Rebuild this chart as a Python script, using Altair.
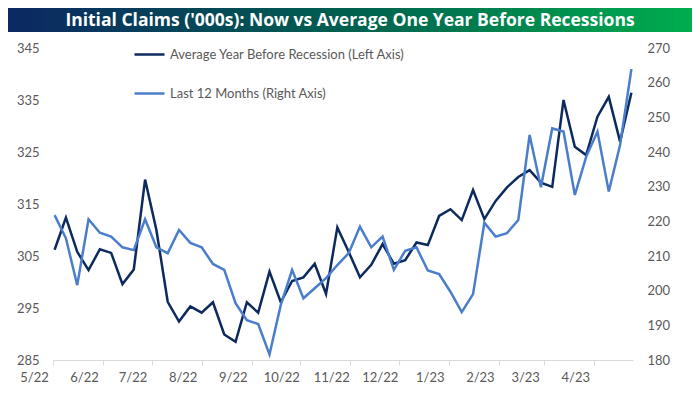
import altair as alt
import pandas as pd

title_text = "Initial Claims ('000s): Now vs Average One Year Before Recessions"
series_names = ["Average Year Before Recession (Left Axis)", "Last 12 Months (Right Axis)"]
series_colors = ["#0c2a5e", "#4a7ecb"]

start_date = "2022-05-02"
n_weeks = 52

avg_year_before = [
    306.2, 312.4, 305.8, 302.3, 306.3, 305.6, 299.6, 302.4, 319.7, 310.0,
    296.2, 292.4, 295.3, 294.1, 296.1, 289.9, 288.5, 296.1, 294.1, 302.0,
    296.1, 300.2, 300.9, 303.5, 297.7, 310.5, 305.8, 300.9, 303.3, 307.3,
    303.5, 304.2, 307.6, 307.1, 312.7, 314.0, 311.9, 317.7, 312.1, 315.6,
    318.2, 320.2, 321.5, 319.1, 318.3, 335.0, 326.0, 324.4, 331.8, 335.6,
    327.0, 336.4,
]
last_12_months = [
    221.8, 215.1, 201.6, 220.6, 216.7, 215.6, 212.5, 211.7, 220.6, 212.5,
    210.8, 217.5, 213.8, 212.5, 207.7, 206.0, 196.4, 191.5, 190.4, 181.6,
    195.9, 206.0, 197.8, 200.7, 203.6, 207.4, 210.8, 218.5, 212.5, 215.6,
    206.0, 211.5, 212.5, 205.8, 204.8, 199.7, 193.8, 199.0, 219.6, 215.6,
    216.6, 220.4, 244.9, 229.8, 246.8, 245.9, 227.6, 238.6, 245.9, 228.6,
    242.0, 263.9,
]

left_ticks = [285, 295, 305, 315, 325, 335, 345]
right_ticks = [180, 190, 200, 210, 220, 230, 240, 250, 260, 270]
month_ticks = [(2022, 5), (2022, 6), (2022, 7), (2022, 8), (2022, 9), (2022, 10),
               (2022, 11), (2022, 12), (2023, 1), (2023, 2), (2023, 3), (2023, 4)]
x_domain = [(2022, 5, 1), (2023, 4, 25)]

dates = pd.date_range(start_date, periods=n_weeks, freq="7D")
df_a = pd.DataFrame({"date": dates, "value": avg_year_before, "series": series_names[0]})
df_b = pd.DataFrame({"date": dates, "value": last_12_months, "series": series_names[1]})

FONT = "Lato"
GRAY = "#595959"

x_enc = alt.X(
    "date:T",
    title=None,
    scale=alt.Scale(domain=[alt.DateTime(year=y, month=m, date=d) for y, m, d in x_domain]),
    axis=alt.Axis(
        values=[alt.DateTime(year=y, month=m, date=1) for y, m in month_ticks],
        format="%-m/%y",
        grid=False,
        domainColor="#d9d9d9",
        tickColor="#d9d9d9",
        tickSize=5,
        labelPadding=6,
        labelOffset=-19,
        labelFlush=False,
        labelOverlap=False,
        labelColor=GRAY,
        labelFont=FONT,
        labelFontSize=13,
    ),
)

color_enc = alt.Color(
    "series:N",
    scale=alt.Scale(domain=series_names, range=series_colors),
    legend=alt.Legend(
        title=None,
        orient="none",
        legendX=80,
        legendY=-10,
        symbolType="stroke",
        symbolSize=900,
        symbolStrokeWidth=2.5,
        rowPadding=15,
        labelOffset=4,
        labelFont=FONT,
        labelFontSize=13,
        labelColor=GRAY,
        labelLimit=400,
        padding=0,
    ),
)

line_a = alt.Chart(df_a).mark_line(strokeWidth=2.5).encode(
    x=x_enc,
    y=alt.Y(
        "value:Q",
        title=None,
        scale=alt.Scale(domain=[285, 345], nice=False, zero=False),
        axis=alt.Axis(values=left_ticks, orient="left", grid=False, domain=False, ticks=False,
                      labelPadding=14, labelColor=GRAY, labelFont=FONT, labelFontSize=13),
    ),
    color=color_enc,
)

line_b = alt.Chart(df_b).mark_line(strokeWidth=2.5).encode(
    x=x_enc,
    y=alt.Y(
        "value:Q",
        title=None,
        scale=alt.Scale(domain=[180, 270], nice=False, zero=False),
        axis=alt.Axis(values=right_ticks, orient="right", grid=False, domain=False, ticks=False,
                      labelPadding=14, labelColor=GRAY, labelFont=FONT, labelFontSize=13),
    ),
    color=color_enc,
)

title_df = pd.DataFrame({"t": [title_text]})
bar = alt.Chart(title_df).mark_rect(
    fill=alt.Gradient(
        gradient="linear",
        stops=[
            alt.GradientStop(color="#0b2862", offset=0),
            alt.GradientStop(color="#00604f", offset=0.5),
            alt.GradientStop(color="#00ad4e", offset=1),
        ],
        x1=0, x2=1, y1=0, y2=0,
    )
).encode(x=alt.value(-45), x2=alt.value(639), y=alt.value(-40), y2=alt.value(-16))

title_txt = alt.Chart(title_df).mark_text(
    color="white", font="Open Sans", fontWeight="bold", fontSize=17.5, align="center", baseline="middle"
).encode(text="t:N", x=alt.value(297), y=alt.value(-27.5))

chart = alt.layer(line_a, line_b, bar, title_txt).resolve_scale(y="independent").properties(
    width=580,
    height=312,
    autosize=alt.AutoSizeParams(type="none"),
    padding={"left": 45, "top": 40, "right": 59, "bottom": 29},
    background="white",
).configure_view(stroke=None)

chart.save("out.html", embed_options={"renderer": "svg", "actions": False})
